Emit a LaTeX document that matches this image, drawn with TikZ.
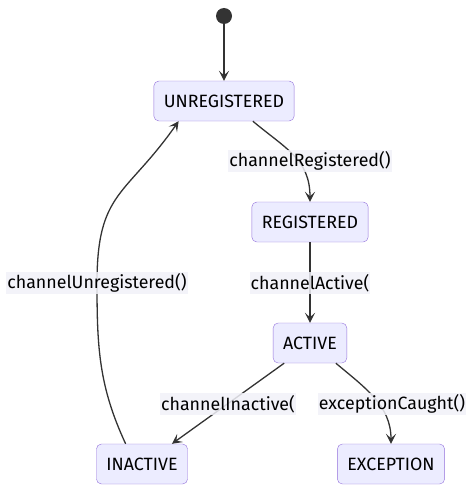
\documentclass[tikz,border=0pt]{standalone}
\usepackage{fontspec}
\setmainfont{Fira Sans}
\usetikzlibrary{arrows.meta,positioning}

\definecolor{statefill}{HTML}{ECECFF}
\definecolor{stateline}{HTML}{9370DB}
\definecolor{edgeline}{HTML}{333333}
\definecolor{labelbg}{HTML}{F1F1F8}

\begin{document}
\begin{tikzpicture}[
  x=1pt, y=-1pt,
  state/.style={draw=stateline, fill=statefill, rounded corners=5pt, minimum height=40pt, inner xsep=10pt, font=\fontsize{17.8}{20}\selectfont},
  trans/.style={fill=labelbg, fill opacity=0.85, text opacity=1, inner xsep=1pt, inner ysep=2pt, font=\fontsize{17.8}{20}\selectfont},
  arrow/.style={-{Stealth[length=10pt, width=10pt, inset=4.5pt]}, draw=edgeline, line width=1.3pt},
]
\useasboundingbox (0,0) rectangle (474,495);

\node[circle, fill=edgeline, inner sep=0pt, minimum size=16pt] (start) at (224,16) {};
\node[state] (unreg) at (224,101) {UNREGISTERED};
\node[state] (reg) at (310,222) {REGISTERED};
\node[state] (active) at (310,343) {ACTIVE};
\node[state] (inactive) at (142,464) {INACTIVE};
\node[state] (except) at (391,464) {EXCEPTION};

% transitions
\draw[arrow] (start) -- (unreg);
\draw[arrow] (unreg.-35) to[out=-40, in=90, looseness=1.1] (reg.north);
\draw[arrow] (reg) -- (active);
\draw[arrow] (active.-142) -- (inactive.34);
\draw[arrow] (active.-38) to[out=-40, in=90] (except.north);
\draw[arrow] (inactive.129) to[out=115, in=-90] (97,283)
  to[out=90, in=-125, looseness=1.3] (unreg.-156);

% labels
\node[trans] (lreg) at (310,161) {channelRegistered()};
\node[trans] (lact) at (310,283) {channelActive(};
\node[trans] (lunreg) at (97,283) {channelUnregistered()};
\node[trans] (linact) at (228,404) {channelInactive(};
\node[trans] (lexc) at (392,404) {exceptionCaught()};
\end{tikzpicture}
\end{document}
